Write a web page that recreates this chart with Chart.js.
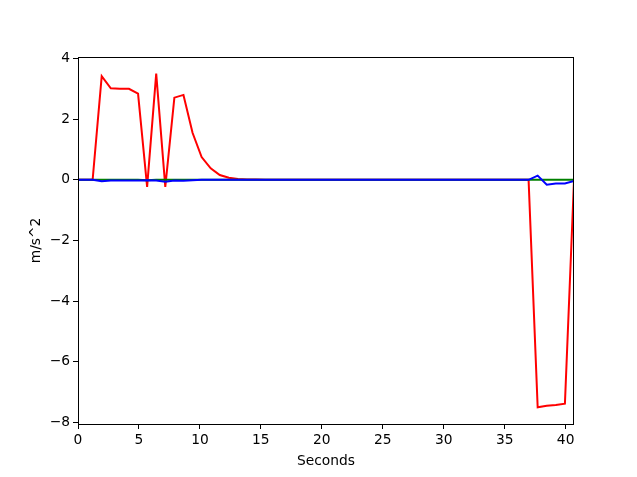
<!DOCTYPE html>
<html>
<head>
<meta charset="utf-8">
<script src="https://cdn.jsdelivr.net/npm/chart.js@4"></script>
<style>
  html, body { margin: 0; padding: 0; background: #fff; }
  #wrap { width: 637px; height: 477px; }
</style>
</head>
<body>
<div id="wrap"><canvas id="myChart" width="637" height="477"></canvas></div>
<script>
// sample times (seconds)
let seconds = [
  0, 1.2, 1.945, 2.69, 3.435, 4.18, 4.925, 5.67, 6.415, 7.16, 7.905,
  8.65, 9.395, 10.14, 10.885, 11.63, 12.375, 13.12, 13.865, 14.61, 15.355,
  16.1, 16.845, 17.59, 18.335, 19.08, 19.825, 20.57, 21.315, 22.06, 22.805,
  23.55, 24.295, 25.04, 25.785, 26.53, 27.275, 28.02, 28.765, 29.51, 30.255,
  31.0, 31.745, 32.49, 33.235, 33.98, 34.725, 35.47, 36.215, 36.96, 37.705,
  38.45, 39.195, 39.94, 40.685
];

// red series
let accelRed = [
  0, 0, 3.42, 3.02, 3.0, 3.0, 2.84, -0.23, 3.5, -0.23, 2.71,
  2.8, 1.55, 0.75, 0.38, 0.16, 0.07, 0.03, 0.015, 0.01, 0.005,
  0, 0, 0, 0, 0, 0, 0, 0, 0, 0,
  0, 0, 0, 0, 0, 0, 0, 0, 0, 0,
  0, 0, 0, 0, 0, 0, 0, 0, 0, -7.5,
  -7.45, -7.42, -7.38, -0.02
];

// green series
let accelGreen = [
  0, 0, 0, 0, 0, 0, 0, -0.01, 0, 0, 0,
  0, 0, 0, 0, 0, 0, 0, 0, 0, 0,
  0, 0, 0, 0, 0, 0, 0, 0, 0, 0,
  0, 0, 0, 0, 0, 0, 0, 0, 0, 0,
  0, 0, 0, 0, 0, 0, 0, 0, 0, 0,
  0, 0, 0, 0
];

// blue series
let accelBlue = [
  0, 0, -0.05, -0.02, -0.02, -0.02, -0.02, -0.01, -0.02, -0.06, -0.02,
  -0.03, -0.01, 0, 0, 0, 0, 0, 0, 0, 0,
  0, 0, 0, 0, 0, 0, 0, 0, 0, 0,
  0, 0, 0, 0, 0, 0, 0, 0, 0, 0,
  0, 0, 0, 0, 0, 0, 0, 0, 0, 0.14,
  -0.16, -0.12, -0.12, -0.04
];

let xTicks = [0, 5, 10, 15, 20, 25, 30, 35, 40];
let yTicks = [-8, -6, -4, -2, 0, 2, 4];

let ctx = document.getElementById('myChart');
let font = { family: 'DejaVu Sans', size: 13.8 };

// turn a series into {x, y} points
function toPoints(values) {
  return values.map((v, i) => ({ x: seconds[i], y: v }));
}

// minus sign like matplotlib
function fmt(v) {
  return v < 0 ? '\u2212' + Math.abs(v) : String(v);
}

// black frame around the plot area
const framePlugin = {
  id: 'frame',
  afterDatasetsDraw(chart) {
    const a = chart.chartArea;
    const c = chart.ctx;
    c.save();
    c.strokeStyle = '#000';
    c.lineWidth = 1;
    c.strokeRect(Math.round(a.left) + 0.5, Math.round(a.top) + 0.5,
                 Math.round(a.right - a.left) - 1, Math.round(a.bottom - a.top));
    c.restore();
  }
};

// Chart.js draws the first dataset on top, so blue comes first
let myChart = new Chart(ctx, {
  type: 'line',
  data: {
    datasets: [
      { data: toPoints(accelBlue), borderColor: '#0000ff', borderWidth: 2, pointRadius: 0, tension: 0 },
      { data: toPoints(accelGreen), borderColor: '#008000', borderWidth: 2, pointRadius: 0, tension: 0 },
      { data: toPoints(accelRed), borderColor: '#ff0000', borderWidth: 2, pointRadius: 0, tension: 0 }
    ]
  },
  options: {
    responsive: false,
    animation: false,
    devicePixelRatio: 1,
    layout: { padding: { left: 24, top: 57, right: 63, bottom: 3 } },
    plugins: { legend: { display: false }, tooltip: { enabled: false } },
    scales: {
      x: {
        type: 'linear',
        min: 0,
        max: 40.685,
        afterBuildTicks: axis => { axis.ticks = xTicks.map(v => ({ value: v })); },
        afterFit: axis => { axis.height = 50; },
        border: { display: false },
        grid: { drawOnChartArea: false, drawTicks: true, tickLength: 5, color: '#000', tickWidth: 1 },
        ticks: { color: '#000', font: font, padding: 3, maxRotation: 0, callback: v => fmt(v) },
        title: { display: true, text: 'Seconds', color: '#000', font: font, padding: { top: 2, bottom: 4 } }
      },
      y: {
        type: 'linear',
        min: -8.05,
        max: 4.05,
        afterBuildTicks: axis => { axis.ticks = yTicks.map(v => ({ value: v })); },
        afterFit: axis => { axis.width = 54; },
        border: { display: false },
        grid: { drawOnChartArea: false, drawTicks: true, tickLength: 5, color: '#000', tickWidth: 1 },
        ticks: { color: '#000', font: font, padding: 3, callback: v => fmt(v) },
        title: { display: true, text: 'm/s^2', color: '#000', font: font, padding: { top: 4, bottom: 4 } }
      }
    }
  },
  plugins: [framePlugin]
});
</script>
</body>
</html>
